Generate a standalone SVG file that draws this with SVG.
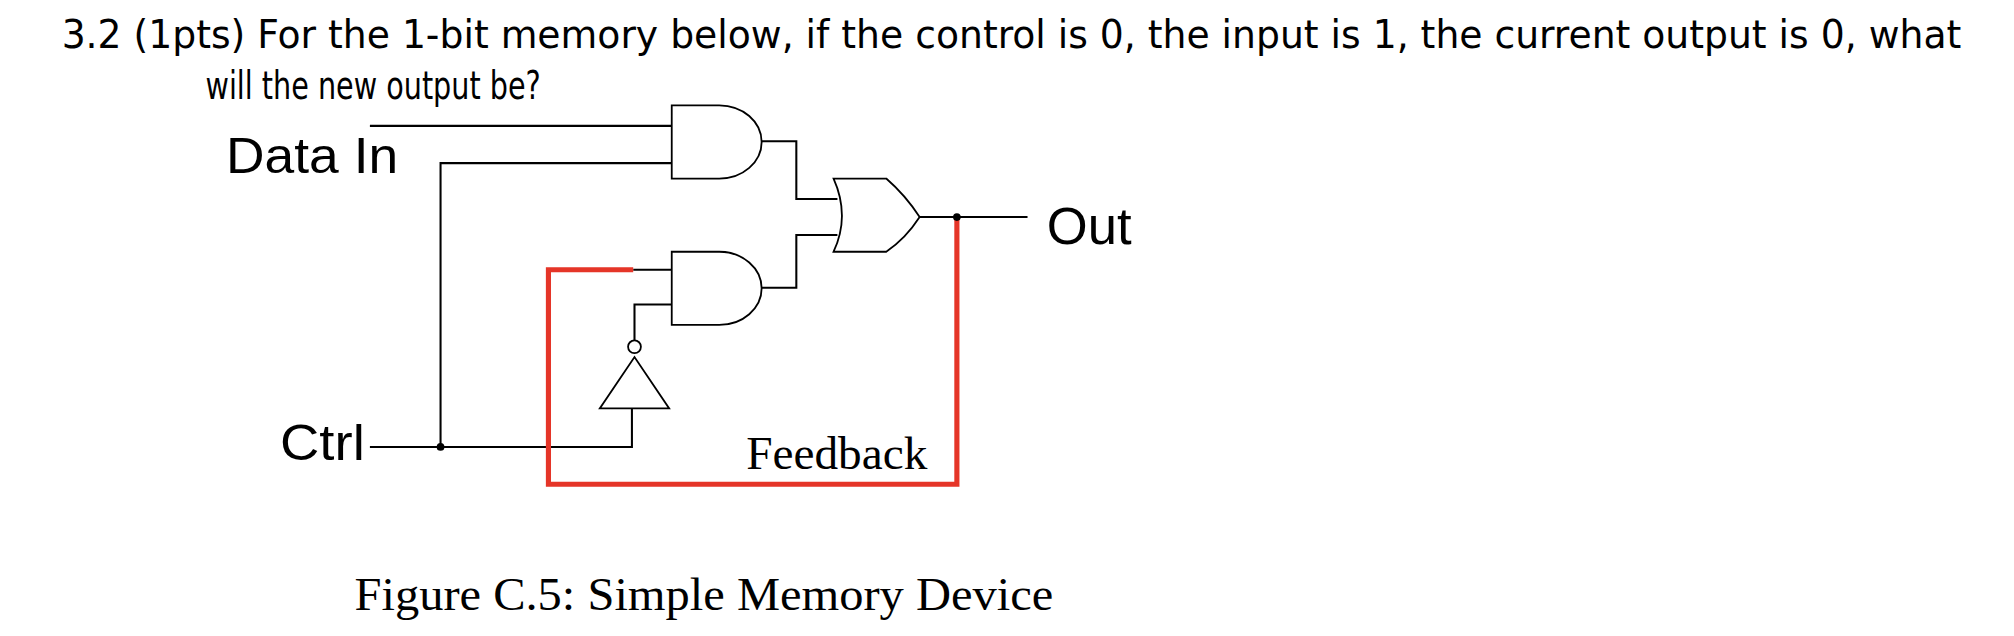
<svg xmlns="http://www.w3.org/2000/svg" width="2014" height="636" viewBox="0 0 2014 636">
<style>
.w{fill:none;stroke:#000;stroke-width:1.6}
.g{fill:#fff;stroke:#000;stroke-width:1.4}
.r{fill:none;stroke:#e53528;stroke-width:4}
.s{font-family:"DejaVu Sans Condensed","DejaVu Sans",sans-serif;fill:#000}
.a{font-family:"Liberation Sans",Arial,sans-serif;fill:#000}
.t{font-family:"Liberation Serif","Times New Roman",serif;fill:#000}
</style>
<rect width="2014" height="636" fill="#fff"/>
<g transform="scale(1.2844)">
<text class="s" x="48" y="37" font-size="30" textLength="1479" lengthAdjust="spacingAndGlyphs">3.2 (1pts) For the 1-bit memory below, if the control is 0, the input is 1, the current output is 0, what</text>
<text class="s" x="160" y="77" font-size="30" textLength="261" lengthAdjust="spacingAndGlyphs">will the new output be?</text>
<g id="connectors">
<path class="w" d="M288 98H523M343 348V127H523M288 348H492V318M494 265V237H523M593 110H620V155H652M593 224H620V183H652M716 169H800M493 210H523"/>
<path class="r" d="M745 169V377H427V210H493"/>
<circle cx="343" cy="348" r="3"/>
<circle cx="745" cy="169" r="3"/>
</g>
<g id="and1"><path class="g" d="M523 82H560A33 28.5 0 0 1 560 139H523Z"/></g>
<g id="and2"><path class="g" d="M523 196H560A33 28.5 0 0 1 560 253H523Z"/></g>
<g id="or"><path class="g" d="M649 139H690Q705 152 716 169Q705 186 690 196H649Q662 168 649 139Z"/></g>
<g id="not"><path class="g" d="M467 318H521L494 278Z"/><circle class="g" cx="494" cy="270" r="5"/></g>
<text class="a" x="176" y="135" font-size="39" textLength="134" lengthAdjust="spacingAndGlyphs">Data In</text>
<text class="a" x="218" y="358" font-size="39" textLength="66" lengthAdjust="spacingAndGlyphs">Ctrl</text>
<text class="a" x="815" y="190" font-size="41" textLength="66" lengthAdjust="spacingAndGlyphs">Out</text>
<text class="t" x="581" y="365" font-size="36" textLength="141" lengthAdjust="spacingAndGlyphs">Feedback</text>
<text class="t" x="276" y="475" font-size="36" textLength="544" lengthAdjust="spacingAndGlyphs">Figure C.5:  Simple Memory Device</text>
</g>
</svg>
